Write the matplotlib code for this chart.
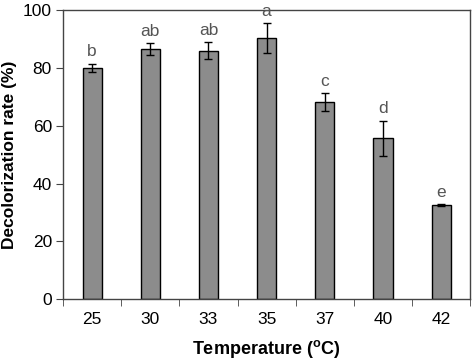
import numpy as np
import matplotlib.pyplot as plt

plt.rcParams['font.family'] = ['Liberation Sans', 'DejaVu Sans']
plt.rcParams['mathtext.fontset'] = 'custom'
plt.rcParams['mathtext.rm'] = 'Liberation Sans'
plt.rcParams['mathtext.bf'] = 'Liberation Sans:bold'

# data
temps = ['25', '30', '33', '35', '37', '40', '42']
rate = [80.0, 86.5, 86.0, 90.3, 68.2, 55.7, 32.5]
err = [1.5, 2.0, 3.0, 5.2, 3.0, 6.0, 0.4]
groups = ['b', 'ab', 'ab', 'a', 'c', 'd', 'e']

fig = plt.figure(figsize=(4.74, 3.63), dpi=100)
ax = fig.add_axes([0.133, 0.176, 0.859, 0.796])

x = np.arange(len(temps))
ax.bar(x, rate, width=0.33, color='#8c8c8c', edgecolor='black', linewidth=1.0,
       yerr=err, capsize=3, error_kw=dict(ecolor='black', elinewidth=1.0, capthick=1.0),
       zorder=2)

for xi, v, e, g in zip(x, rate, err, groups):
    ax.text(xi, v + e + 1.5, g, ha='center', va='bottom', fontsize=12.5, color='#555555')

ax.set_xlim(-0.5, len(temps) - 0.5)
ax.set_ylim(0, 100)
ax.set_yticks(np.arange(0, 101, 20))
ax.set_xticks(x)
ax.set_xticklabels(temps)
ax.set_xticks(np.arange(-0.5, len(temps)), minor=True)
ax.tick_params(axis='x', which='major', length=0, pad=9, labelsize=12.5)
ax.tick_params(axis='x', which='minor', length=5, direction='out', color='#444444')
ax.tick_params(axis='y', length=5, direction='out', color='#444444', labelsize=12.5, pad=3)

for s in ax.spines.values():
    s.set_color('#444444')
    s.set_linewidth(1.0)

ax.set_xlabel(r'Temperature ($\mathbf{^{o}}$C)', fontsize=13, fontweight='bold', labelpad=8)
ax.set_ylabel('Decolorization rate (%)', fontsize=12.5, fontweight='bold', labelpad=4)

fig.savefig('out.png', dpi=100)
